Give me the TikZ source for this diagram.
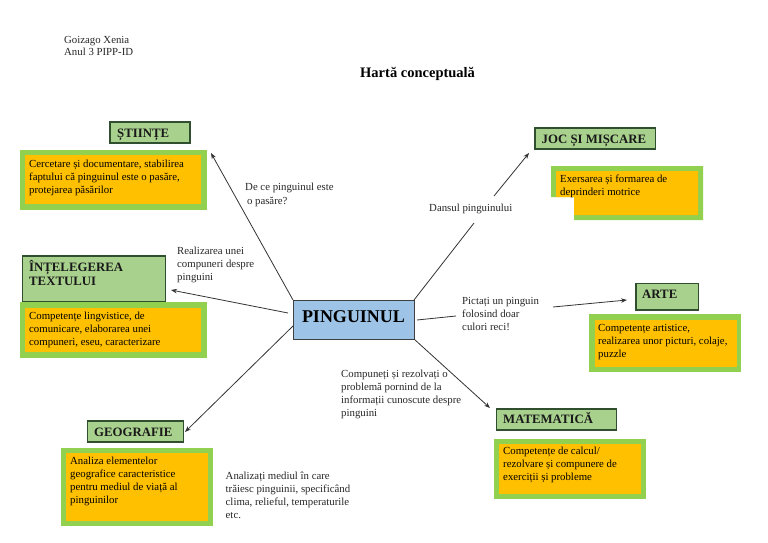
\documentclass[tikz,border=0pt]{standalone}
\usepackage{fontspec}
\setmainfont{Liberation Serif}
\usetikzlibrary{arrows.meta}
\tikzset{
 x=1pt,y=-1pt,
 body/.style={anchor=north west,inner sep=0pt,align=left,font=\fontsize{10.8}{13}\selectfont,text=black!85},
 orangetext/.style={body,text=black},
 topic/.style={draw=topicline,line width=1.1pt,fill=topicfill,rectangle},
 topiclabel/.style={anchor=base west,inner sep=0pt,font=\fontsize{12.8}{15}\selectfont\bfseries,text=black!90},
 outerbox/.style={fill=framegreen},
 innerbox/.style={fill=boxorange},
 link/.style={draw=black!80,line width=0.8pt},
 arrowlink/.style={link,-{Stealth[length=6pt,width=4.5pt]}},
}
\definecolor{topicline}{HTML}{2F4F2F}
\definecolor{topicfill}{HTML}{A9D18E}
\definecolor{framegreen}{HTML}{92D050}
\definecolor{boxorange}{HTML}{FFC000}
\definecolor{centerblue}{HTML}{9DC3E6}
\begin{document}
\begin{tikzpicture}
\useasboundingbox (0,0) rectangle (768,543);
% header
\node[body,font=\fontsize{10.8}{12}\selectfont] (author) at (64,36) {Goizago Xenia\\Anul 3 PIPP-ID};
\node[anchor=north west,inner sep=0pt,font=\fontsize{14.5}{16}\selectfont\bfseries] (title) at (360,67) {Hartă conceptuală};
% boxes
\fill[outerbox] (20,150) rectangle (207,210);
\fill[innerbox] (25,155) rectangle (201,204);
\fill[outerbox] (20,302) rectangle (207,358);
\fill[innerbox] (25,308) rectangle (201,352);
\fill[outerbox] (61,448) rectangle (213,526);
\fill[innerbox] (66,453) rectangle (208,521);
\fill[outerbox] (551,166) -- (703,166) -- (703,220) -- (574,220) -- (574,197) -- (551,197) -- cycle;
\fill[innerbox] (556,171) -- (698,171) -- (698,215) -- (574,215) -- (574,197) -- (556,197) -- cycle;
\fill[outerbox] (589,314) rectangle (741,372);
\fill[innerbox] (595,320) rectangle (737,367);
\fill[outerbox] (494,439) rectangle (646,499);
\fill[innerbox] (499,444) rectangle (641,494);
% topics
\draw[topic] (110,122) rectangle (190,143);
\node[topiclabel] (stiinte) at (117,137) {ȘTIINȚE};
\draw[topic] (22.5,256) rectangle (165.5,301.5);
\node[topiclabel] (intelegere) at (29,271) {ÎNȚELEGEREA};
\node[topiclabel] (textului) at (29,285.5) {TEXTULUI};
\draw[topic] (87.5,421) rectangle (183.5,442);
\node[topiclabel] (geografie) at (94,436) {GEOGRAFIE};
\draw[topic] (535,128) rectangle (655.5,149);
\node[topiclabel] (joc) at (541.5,143) {JOC ȘI MIȘCARE};
\draw[topic] (636,283.5) rectangle (698.5,310);
\node[topiclabel] (arte) at (642,298.5) {ARTE};
\draw[topic] (496.5,409) rectangle (616.5,430);
\node[topiclabel] (mate) at (503,423.5) {MATEMATICĂ};
% centre
\node[draw=black!75,line width=0.7pt,fill=centerblue,minimum width=121pt,minimum height=39pt,inner sep=0pt,font=\fontsize{18}{20}\selectfont\bfseries] (center) at (353.5,319.5) {\raisebox{5pt}{PINGUINUL}};
% box texts
\node[orangetext] (t1) at (29,160) {Cercetare și documentare, stabilirea\\faptului că pinguinul este o pasăre,\\protejarea păsărilor};
\node[orangetext] (t2) at (29,312) {Competențe lingvistice, de\\comunicare, elaborarea unei\\compuneri, eseu, caracterizare};
\node[orangetext] (t3) at (70,457) {Analiza elementelor\\geografice caracteristice\\pentru mediul de viață al\\pinguinilor};
\node[orangetext] (t4) at (560,175) {Exersarea și formarea de\\deprinderi motrice};
\node[orangetext] (t5) at (598,324) {Competențe artistice,\\realizarea unor picturi, colaje,\\puzzle};
\node[orangetext] (t6) at (503,447) {Competențe de calcul/\\rezolvare și compunere de\\exerciții și probleme};
% link labels
\node[body] (l1) at (245,183) {De ce pinguinul este\\[1pt] \,o pasăre?};
\node[body] (l2) at (177,247) {Realizarea unei\\compuneri despre\\pinguini};
\node[body] (l3) at (429,204) {Dansul pinguinului};
\node[body] (l4) at (462,297) {Pictați un pinguin\\folosind doar\\culori reci!};
\node[body] (l5) at (341,370) {Compuneți și rezolvați o\\problemă pornind de la\\informații cunoscute despre\\pinguini};
\node[body] (l6) at (225.5,472) {Analizați mediul în care\\trăiesc pinguinii, specificând\\clima, relieful, temperaturile\\etc.};
% connector ends
\coordinate (a1) at (211,153);
\coordinate (a2) at (171,290);
\coordinate (b2) at (288,313);
\coordinate (a3) at (185,432);
\coordinate (b3) at (293,326);
\coordinate (b1) at (293,300);
\coordinate (c4) at (414,300);
\coordinate (d4) at (474,223);
\coordinate (e4) at (494,196);
\coordinate (a4) at (529,153);
\coordinate (c5) at (417,320);
\coordinate (d5) at (456,316);
\coordinate (e5) at (553,307);
\coordinate (a5) at (627,300);
\coordinate (c6) at (414,339);
\coordinate (a6) at (490,408);
% connectors
\draw[arrowlink] (b1) -- (a1);
\draw[arrowlink] (b2) -- (a2);
\draw[arrowlink] (b3) -- (a3);
\draw[link] (c4) -- (d4);
\draw[arrowlink] (e4) -- (a4);
\draw[link] (c5) -- (d5);
\draw[arrowlink] (e5) -- (a5);
\draw[arrowlink] (c6) -- (a6);
\end{tikzpicture}
\end{document}
